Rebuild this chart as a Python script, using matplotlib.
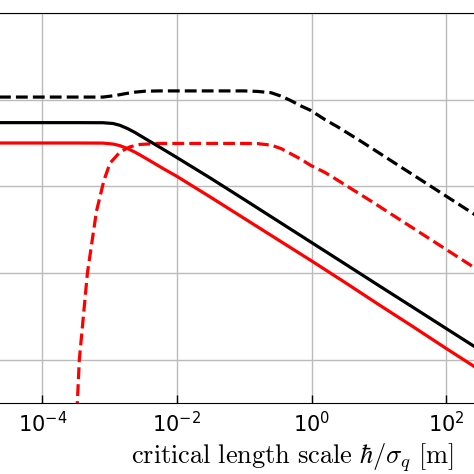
import numpy as np
import matplotlib
matplotlib.use("Agg")
import matplotlib.pyplot as plt
from matplotlib.ticker import NullLocator, LogFormatterSciNotation

# values, stored as log10 exponents
# solid black
black_x = [-5.0, -3.5, -3.1, -2.95, -2.85, -2.73, -2.62, -2.55, -2.40, -2.20, -2.00,
           -1.50, -1.00, -0.50, 0.0, 0.5, 1.0, 1.5, 2.0, 2.42, 2.8]
black_y = [-0.265, -0.265, -0.266, -0.275, -0.295, -0.335, -0.38, -0.413, -0.482, -0.574, -0.668,
           -0.906, -1.152, -1.40, -1.648, -1.896, -2.145, -2.392, -2.64, -2.848, -3.037]

# solid red
red_x = [-5.0, -3.5, -3.1, -2.95, -2.85, -2.73, -2.62, -2.55, -2.40, -2.20, -2.00,
         -1.50, -1.00, -0.50, 0.0, 0.5, 1.0, 1.5, 2.0, 2.42, 2.8]
red_y = [-0.50, -0.50, -0.501, -0.512, -0.53, -0.565, -0.607, -0.637, -0.705, -0.797, -0.885,
         -1.125, -1.37, -1.615, -1.86, -2.11, -2.365, -2.615, -2.87, -3.08, -3.27]

# dashed black
black_d_x = [-5.0, -3.1, -2.92, -2.77, -2.62, -2.47, -2.25, -1.0, -0.8, -0.6,
             -0.45, -0.32, -0.15, -0.02, 0.2, 0.38, 0.72, 1.0, 1.5, 2.0, 2.4, 2.8]
black_d_y = [0.03, 0.03, 0.047, 0.069, 0.087, 0.098, 0.101, 0.101, 0.095, 0.08,
             0.04, -0.006, -0.075, -0.121, -0.23, -0.31, -0.473, -0.613, -0.863, -1.113, -1.313, -1.513]

# dashed red
red_d_x = [-3.52, -3.48, -3.45, -3.33, -3.195, -3.083, -2.994, -2.843, -2.697, -2.548,
           -2.296, -2.0, -1.0, -0.8, -0.6, -0.45, -0.316, -0.15, -0.02, 0.2, 0.38,
           0.87, 1.5, 2.0, 2.4, 2.8]
red_d_y = [-4.2, -3.5, -3.0, -2.0, -1.286, -0.928, -0.732, -0.602, -0.544, -0.517,
           -0.505, -0.505, -0.505, -0.507, -0.525, -0.565, -0.621, -0.69, -0.755, -0.84, -0.925,
           -1.163, -1.478, -1.728, -1.928, -2.128]

xtick_values = [1e-4, 1e-2, 1e0, 1e2]

fig = plt.figure(figsize=(4.74, 4.74), dpi=100)
# axes runs past the left and right edges (the original picture is cropped)
ax = fig.add_axes([-20 / 474, 1 - 403 / 474, 625 / 474, 390 / 474])

lw = 2.3
ax.plot(10 ** np.array(black_d_x), 10 ** np.array(black_d_y), color="black", lw=lw, ls="--")
ax.plot(10 ** np.array(red_d_x), 10 ** np.array(red_d_y), color="red", lw=lw, ls="--")
ax.plot(10 ** np.array(black_x), 10 ** np.array(black_y), color="black", lw=lw)
ax.plot(10 ** np.array(red_x), 10 ** np.array(red_y), color="red", lw=lw)

ax.set_xscale("log")
ax.set_yscale("log")
ax.set_xlim(10 ** -4.926, 10 ** 4.361)
ax.set_ylim(10 ** -3.5, 10 ** 1)

ax.set_xticks(xtick_values)
ax.xaxis.set_major_formatter(LogFormatterSciNotation(base=10))
ax.xaxis.set_minor_locator(NullLocator())
ax.yaxis.set_minor_locator(NullLocator())
ax.tick_params(axis="both", direction="in", length=5.5, width=1.0, labelsize=15, pad=6)
ax.tick_params(axis="y", labelleft=False)

ax.grid(True, which="major", color="#bbbbbb", lw=1.0)

ax.set_xlabel(r"$\mathrm{critical\ length\ scale}\ \hbar/\sigma_q\ [\mathrm{m}]$", fontsize=19,
              math_fontfamily="cm", labelpad=3)

fig.savefig("out.png", dpi=100)
